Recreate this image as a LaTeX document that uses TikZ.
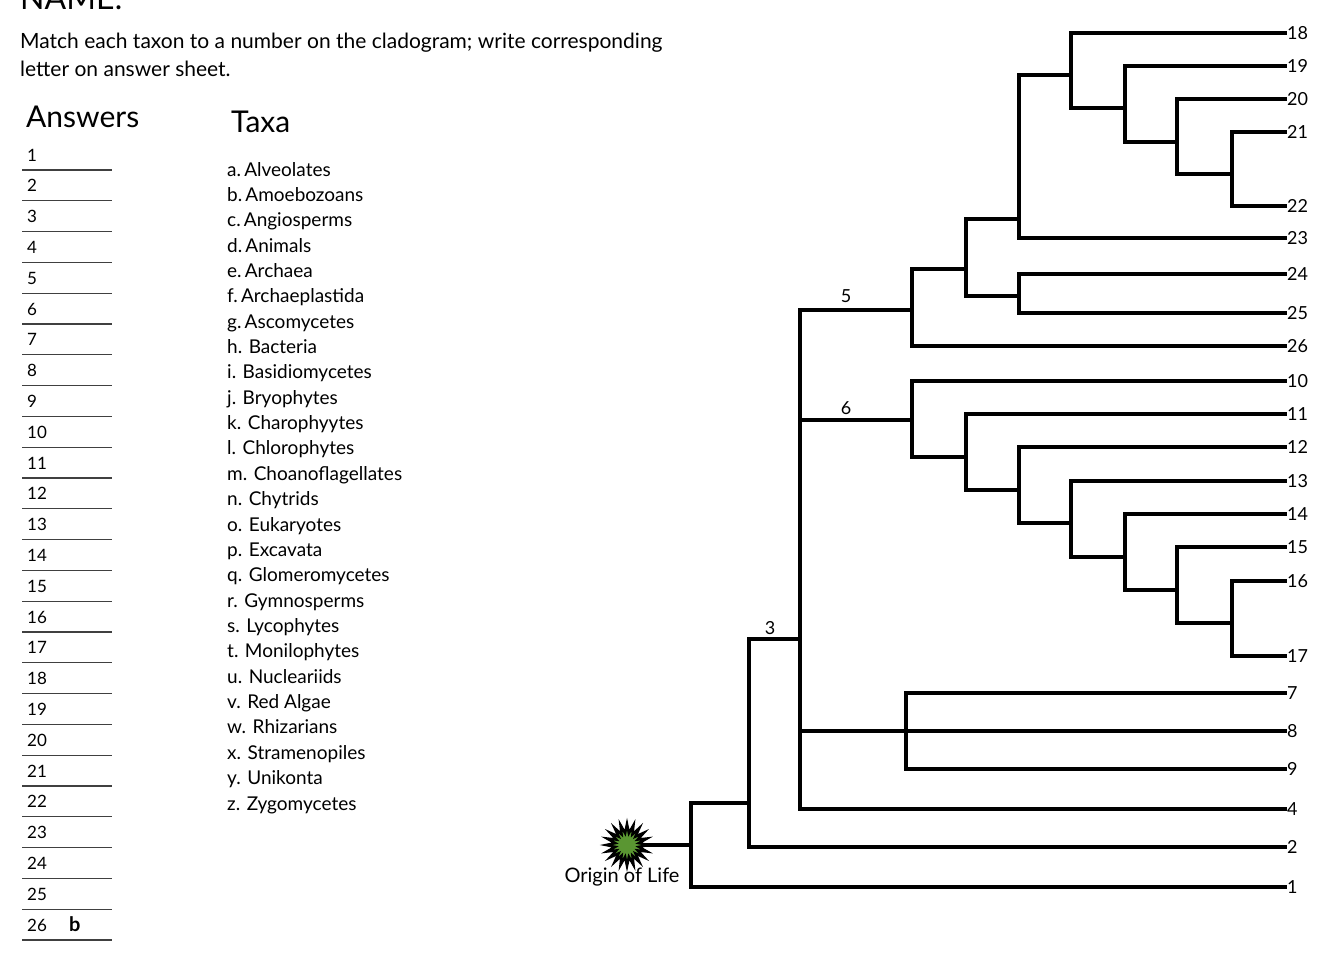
\documentclass[tikz,border=0pt]{standalone}
\usepackage{fontspec}
\setmainfont{Lato}
\begin{document}
\begin{tikzpicture}[x=1pt,y=-1pt,
  br/.style={line width=4pt,line cap=rect},
  lf/.style={anchor=west,inner sep=2pt,font=\fontsize{18}{18}\selectfont},
  tx/.style={anchor=base west,inner sep=0pt,font=\fontsize{19}{19}\selectfont},
  an/.style={anchor=base west,inner sep=0pt,font=\fontsize{17}{17}\selectfont}]
\useasboundingbox (0,0) rectangle (1337,955);
\node[anchor=base west,inner sep=0pt,font=\fontsize{32}{32}\selectfont] (nm) at (20,10) {NAME:};
\node[anchor=base west,inner sep=0pt,align=left,font=\fontsize{21}{28}\selectfont] (ins) at (20,77) {Match each taxon to a number on the cladogram; write corresponding\\letter on answer sheet.};
\node[anchor=base west,inner sep=0pt,font=\fontsize{30}{30}\selectfont] (ah) at (26,128) {Answers};
\node[anchor=base west,inner sep=0pt,font=\fontsize{30}{30}\selectfont] (th) at (231,132) {Taxa};
\foreach \i in {1,...,26}{
  \node[an] (n\i) at (27,{161+(\i-1)*30.8}) {\i};
  \draw[line width=1.3pt,black!75] (22,{170+(\i-1)*30.8}) -- (112,{170+(\i-1)*30.8});
}
\node[anchor=base west,inner sep=0pt,font=\bfseries\fontsize{20}{20}\selectfont] (bb) at (69,931) {b};
\foreach \t [count=\k] in {a.\,Alveolates,b.\,Amoebozoans,c.\,Angiosperms,d.\,Animals,e.\,Archaea,f.\,Archaeplastida,g.\,Ascomycetes,h. Bacteria,i. Basidiomycetes,j. Bryophytes,k. Charophyytes,l. Chlorophytes,m. Choanoflagellates,n. Chytrids,o. Eukaryotes,p. Excavata,q. Glomeromycetes,r. Gymnosperms,s. Lycophytes,t. Monilophytes,u. Nucleariids,v. Red Algae,w. Rhizarians,x. Stramenopiles,y. Unikonta,z. Zygomycetes}{
  \node[tx] (t\k) at (227,{176+(\k-1)*25.36}) {\t};
}
% leaves
\foreach \n/\x/\y in {18/1071/33,19/1125/66,20/1177/99,21/1232/132,22/1232/206,23/1019/238,24/1019/274,25/1019/313,26/912/346,
 10/912/381,11/966/414,12/1019/447,13/1071/481,14/1125/514,15/1177/547,16/1232/581,17/1232/656,7/906/693,8/800/731,9/906/769,4/800/809,2/749/847,1/691/887}{
  \coordinate (s\n) at (\x,\y);
  \node[lf] (l\n) at (1285,\y) {\n};
  \draw[br] (s\n) -- (1285,\y);
}
\draw[br] (1232,132)--(1232,206) (1232,174)--(1177,174);
\draw[br] (1177,99)--(1177,174) (1177,142)--(1125,142);
\draw[br] (1125,66)--(1125,142) (1125,108)--(1071,108);
\draw[br] (1071,33)--(1071,108) (1071,75)--(1019,75);
\draw[br] (1019,75)--(1019,238) (1019,219)--(966,219);
\draw[br] (1019,274)--(1019,313) (1019,296)--(966,296);
\draw[br] (966,219)--(966,296) (966,269)--(912,269);
\draw[br] (912,269)--(912,346) (912,310)--(800,310);
\draw[br] (1232,581)--(1232,656) (1232,623)--(1177,623);
\draw[br] (1177,547)--(1177,623) (1177,590)--(1125,590);
\draw[br] (1125,514)--(1125,590) (1125,557)--(1071,557);
\draw[br] (1071,481)--(1071,557) (1071,523)--(1019,523);
\draw[br] (1019,447)--(1019,523) (1019,490)--(966,490);
\draw[br] (966,414)--(966,490) (966,457)--(912,457);
\draw[br] (912,381)--(912,457) (912,420)--(800,420);
\draw[br] (906,693)--(906,769);
\draw[br] (800,310)--(800,809) (800,639)--(749,639);
\draw[br] (749,639)--(749,847) (749,803)--(691,803);
\draw[br] (691,803)--(691,887);
\node[font=\fontsize{18}{18}\selectfont,anchor=base] (c5) at (846,302) {5};
\node[font=\fontsize{18}{18}\selectfont,anchor=base] (c6) at (846,414) {6};
\node[font=\fontsize{18}{18}\selectfont,anchor=base] (c3) at (770,634) {3};
% star
\coordinate (st) at (627,845);
\draw[br] (st) -- (691,845);
\begin{scope}[shift={(627,845)}]
\filldraw[fill={rgb,255:red,90;green,150;blue,50},draw=black,line width=2.5pt,line join=miter]
  (0:21) \foreach \a in {0,...,19}{ -- ({\a*18+9}:12) -- ({\a*18+18}:21) } -- cycle;
\end{scope}
\node[anchor=base,inner sep=0pt,font=\fontsize{20}{20}\selectfont] (ol) at (622,882) {Origin of Life};
\end{tikzpicture}
\end{document}
